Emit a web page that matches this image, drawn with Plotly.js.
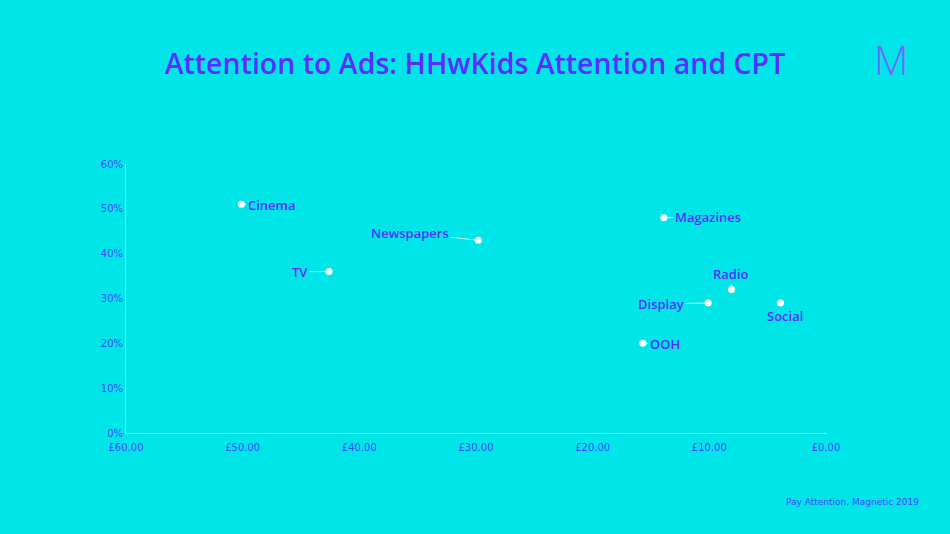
<!DOCTYPE html>
<html>
<head>
<meta charset="utf-8">
<script src="https://cdn.plot.ly/plotly-3.0.1.min.js"></script>
<style>html,body{margin:0;padding:0;background:#00E5E8;}#chart{width:950px;height:534px;}</style>
</head>
<body>
<div id="chart"></div>
<script>
const channels = ["Cinema", "TV", "Newspapers", "Magazines", "Radio", "Display", "Social", "OOH"];
const cpt = [50.1, 42.6, 29.8, 13.9, 8.1, 10.1, 3.9, 15.7];
const attention = [51, 36, 43, 48, 32, 29, 29, 20];
const xTickVals = [60, 50, 40, 30, 20, 10, 0];
const xTickText = ["£60.00", "£50.00", "£40.00", "£30.00", "£20.00", "£10.00", "£0.00"];
const yTickVals = [0, 10, 20, 30, 40, 50, 60];
const yTickText = ["0%", "10%", "20%", "30%", "40%", "50%", "60%"];

// label offsets (pixels) for each channel's annotation
const labelOffsets = {
  "Cinema": [30, 1], "TV": [-29, 0], "Newspapers": [-68, -7], "Magazines": [44, -1],
  "Radio": [-1, -16], "Display": [-47, 1], "Social": [4, 13], "OOH": [22, 1]
};

const purple = "#5B2EFF";
const tickColor = "#4A48FF";
const labelFont = "'Open Sans', 'Noto Sans', sans-serif";

const annotations = channels.map((c, i) => ({
  x: cpt[i], y: attention[i], xref: "x", yref: "y",
  text: c, showarrow: true, arrowhead: 0, arrowwidth: 1, arrowcolor: "rgba(255,255,255,0.75)",
  ax: labelOffsets[c][0], ay: labelOffsets[c][1], standoff: 3,
  font: {family: labelFont, size: 13, color: purple, weight: 600}
}));

annotations.push({
  xref: "paper", yref: "paper", x: 1.0, y: -0.255, xanchor: "right", yanchor: "middle",
  text: "Pay Attention, Magnetic 2019", showarrow: false, xshift: 95,
  font: {family: "'DejaVu Sans', sans-serif", size: 9, color: tickColor}
});
annotations.push({
  xref: "paper", yref: "paper", x: 1.0, y: 1.0, xanchor: "center", yanchor: "middle",
  text: "M", showarrow: false, xshift: 65, yshift: 105,
  font: {family: "'Open Sans', sans-serif", size: 40, color: "#7466FF", weight: 300}
});

const trace = {
  type: "scatter", mode: "markers", x: cpt, y: attention, text: channels,
  marker: {color: "#FFFFFF", size: 7}, hoverinfo: "text"
};

const layout = {
  width: 950, height: 534,
  paper_bgcolor: "#00E5E8", plot_bgcolor: "#00E5E8",
  margin: {l: 126, r: 124, t: 164, b: 101},
  showlegend: false,
  title: {text: "Attention to Ads: HHwKids Attention and CPT", x: 0.5, xanchor: "center", y: 0.88, yanchor: "middle",
          font: {family: labelFont, size: 28.5, color: purple, weight: 600}},
  xaxis: {range: [60, 0], tickvals: xTickVals, ticktext: xTickText, showgrid: false, zeroline: false,
          showline: true, linecolor: "rgba(255,255,255,0.6)", linewidth: 1, ticks: "", ticklabelstandoff: 5,
          tickfont: {family: "'DejaVu Sans', sans-serif", size: 10, color: tickColor}},
  yaxis: {range: [0, 60], tickvals: yTickVals, ticktext: yTickText, showgrid: false, zeroline: false,
          showline: true, linecolor: "rgba(255,255,255,0.6)", linewidth: 1, ticks: "",
          tickfont: {family: "'DejaVu Sans', sans-serif", size: 10, color: tickColor}},
  annotations: annotations
};

Plotly.newPlot("chart", [trace], layout, {displayModeBar: false, staticPlot: true});
</script>
</body>
</html>
